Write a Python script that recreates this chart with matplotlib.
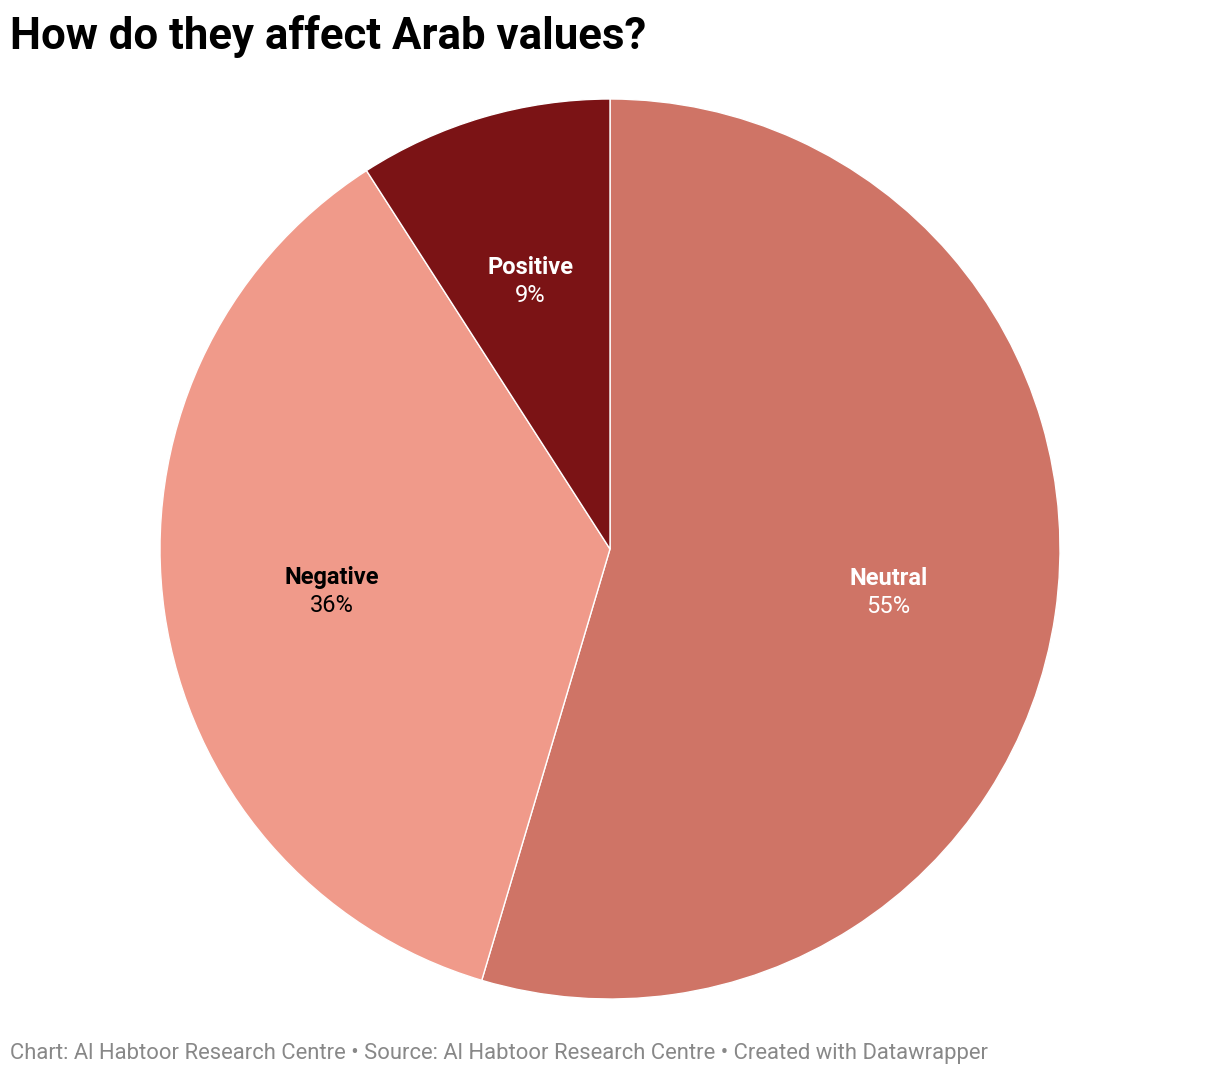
import numpy as np
import matplotlib.pyplot as plt

plt.rcParams['font.family'] = ['Roboto', 'DejaVu Sans']

labels = ['Neutral', 'Negative', 'Positive']
values = [54.6, 36.3, 9.1]
colors = ['#cf7466', '#f09a8a', '#7b1315']
text_colors = ['white', 'black', 'white']

fig = plt.figure(figsize=(12.2, 10.76), dpi=100)
# pie centred at (610, 549) px, radius 450 px
ax = fig.add_axes([160 / 1220, 1 - 999 / 1076, 900 / 1220, 900 / 1076])

wedges, _ = ax.pie(values, startangle=90, counterclock=False, colors=colors,
                   wedgeprops=dict(edgecolor='white', linewidth=1))
ax.set_xlim(-1, 1)
ax.set_ylim(-1, 1)
ax.set_aspect('equal')

for w, lab, v, tc in zip(wedges, labels, values, text_colors):
    mid = np.deg2rad((w.theta1 + w.theta2) / 2)
    x, y = 0.625 * np.cos(mid), 0.625 * np.sin(mid) - 0.006
    ax.text(x, y + 0.031, lab, ha='center', va='center', fontsize=17,
            fontweight='bold', color=tc)
    ax.text(x, y - 0.031, f'{v:.0f}%', ha='center', va='center', fontsize=17,
            color=tc)

fig.text(10 / 1220, 1 - 36 / 1076, 'How do they affect Arab values?',
         fontsize=31.5, fontweight='bold', ha='left', va='center')
fig.text(10 / 1220, 1 - 1053 / 1076,
         'Chart: Al Habtoor Research Centre \u2022 Source: Al Habtoor Research Centre \u2022 Created with Datawrapper',
         fontsize=15.8, color='#888888', ha='left', va='center')

fig.savefig('out.png', dpi=100)
